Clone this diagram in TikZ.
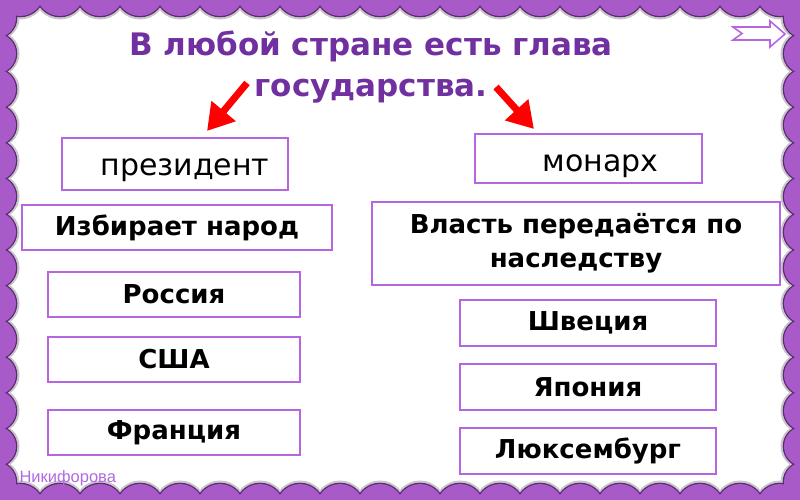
\documentclass[tikz,border=0pt]{standalone}
\usepackage{fontspec}
\setmainfont{DejaVu Sans}
\newfontfamily\footf{Liberation Sans}
\usetikzlibrary{arrows.meta}
\definecolor{titlepurple}{HTML}{7030A0}
\definecolor{boxpurple}{HTML}{B566E0}
\definecolor{scallop}{HTML}{A95AC9}
\definecolor{scallopedge}{HTML}{5E2876}
\definecolor{bandbg}{HTML}{7B4E92}
\definecolor{redarrow}{HTML}{FF0000}
\definecolor{footpurple}{HTML}{B36AE0}
\tikzset{
  cbox/.style={draw=boxpurple, line width=2pt, fill=white, inner sep=0pt, align=center},
  boldtxt/.style={font=\fontsize{26}{34}\selectfont\bfseries},
  regtxt/.style={font=\fontsize{30}{34}\selectfont},
  titletxt/.style={font=\fontsize{31}{41}\selectfont\bfseries, text=titlepurple, align=center},
  scalfill/.style={fill=scallop},
  scaledge/.style={fill=scallopedge},
  scalshadow/.style={fill=black!22},
  redarr/.style={draw=redarrow, line width=7pt, -{Triangle[length=26pt,width=30pt]}},
  nextarrow/.style={draw=boxpurple, line width=1.6pt, fill=white, line join=miter}
}
\begin{document}
\begin{tikzpicture}[x=1pt,y=-1pt]
\useasboundingbox (0,0) rectangle (800,500);
% frame
\fill[bandbg] (0,0) rectangle (800,500);
\fill[white] (6,6) rectangle (794,494);
% soft shadow
\foreach \k in {0,...,19} {
  \fill[scalshadow] (20+40*\k, -6.7) circle (26.2);
  \fill[scalshadow] (20+40*\k, 506.7) circle (26.2);
}
\foreach \k in {0,...,13} {
  \fill[scalshadow] (-3, 17.86+35.71*\k) circle (22.5);
  \fill[scalshadow] (803, 17.86+35.71*\k) circle (22.5);
}
% dark edges
\foreach \k in {0,...,19} {
  \fill[scaledge] (20+40*\k, -7.7) circle (25);
  \fill[scaledge] (20+40*\k, 507.7) circle (25);
}
\foreach \k in {0,...,13} {
  \fill[scaledge] (-4, 17.86+35.71*\k) circle (21.3);
  \fill[scaledge] (804, 17.86+35.71*\k) circle (21.3);
}
% scallops
\foreach \k in {0,...,19} {
  \fill[scalfill] (20+40*\k, -7.7) circle (23.7);
  \fill[scalfill] (20+40*\k, 507.7) circle (23.7);
}
\foreach \k in {0,...,13} {
  \fill[scalfill] (-4, 17.86+35.71*\k) circle (20);
  \fill[scalfill] (804, 17.86+35.71*\k) circle (20);
}
% title
\node[titletxt] (title) at (371,67) {В любой стране есть глава\\государства.};
% arrows
\coordinate (la1) at (247,83);
\coordinate (la2) at (207,131);
\coordinate (ra1) at (496,87);
\coordinate (ra2) at (534,129);
\draw[redarr] (la1) -- (la2);
\draw[redarr] (ra1) -- (ra2);
% next arrow
\draw[nextarrow] (733,27) -- (770,27) -- (770,21) -- (785,34) -- (770,47) -- (770,40) -- (733,40) -- (742,33.5) -- cycle;
% left column
\node[cbox, regtxt, minimum width=226pt, minimum height=52pt] (pres) at (175,164) {\hspace*{20pt}\raisebox{-6pt}[\height][\depth]{президент}};
\node[cbox, boldtxt, minimum width=310pt, minimum height=45pt] (izb) at (177,227.5) {Избирает народ};
\node[cbox, boldtxt, minimum width=252pt, minimum height=45pt] (rus) at (174,294.5) {Россия};
\node[cbox, boldtxt, minimum width=252pt, minimum height=45pt] (usa) at (174,359.5) {США};
\node[cbox, boldtxt, minimum width=252pt, minimum height=45pt] (fra) at (174,432.5) {Франция};
% right column
\node[cbox, regtxt, minimum width=227pt, minimum height=49pt] (mon) at (588.5,158.5) {\hspace*{24pt}\raisebox{-8pt}[\height][\depth]{монарх}};
\node[cbox, boldtxt, minimum width=408pt, minimum height=83pt] (vl) at (576,243.5) {Власть передаётся по\\наследству};
\node[cbox, boldtxt, minimum width=256pt, minimum height=46pt] (sw) at (588,323) {Швеция};
\node[cbox, boldtxt, minimum width=256pt, minimum height=46pt] (jp) at (588,387) {Япония};
\node[cbox, boldtxt, minimum width=256pt, minimum height=46pt] (lux) at (588,451) {Люксембург};
% footer
\node[font=\footf\fontsize{16.5}{18}\selectfont, text=footpurple, anchor=west] (foot) at (16,478) {Никифорова};
\end{tikzpicture}
\end{document}
